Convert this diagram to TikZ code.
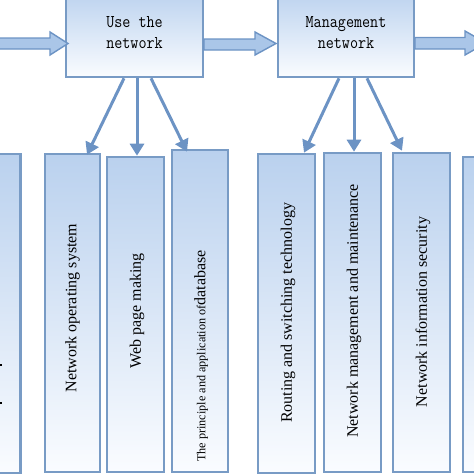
\documentclass[tikz,border=0pt]{standalone}
\usepackage{fontspec}
\setmainfont{Liberation Serif}
\usetikzlibrary{arrows.meta,calc}
\definecolor{bordc}{RGB}{120,155,197}
\definecolor{arrc}{RGB}{108,147,196}
\definecolor{topc}{RGB}{186,209,238}
\definecolor{topd}{RGB}{193,214,240}
\definecolor{botc}{RGB}{250,252,255}
\definecolor{blkfill}{RGB}{170,198,232}
\tikzset{
  topbox/.style={draw=bordc,line width=2.6pt,top color=topd,bottom color=botc,minimum width=136pt,minimum height=78pt,inner sep=0pt},
  subbox/.style={draw=bordc,line width=2.6pt,top color=topc,bottom color=botc,minimum width=55pt,inner sep=0pt},
  toptext/.style={font=\fontsize{18pt}{21pt}\ttfamily,align=center,inner sep=0pt},
  subtext/.style={font=\fontsize{16pt}{18pt}\selectfont,rotate=90,inner sep=0pt},
  thinarrow/.style={draw=arrc,line width=3pt,-{Triangle[length=12pt,width=14pt]}},
  blockarrow/.style={draw=arrc,line width=1.4pt,fill=blkfill,line join=miter}
}
\begin{document}
\begin{tikzpicture}[x=1pt,y=-1pt]
\useasboundingbox (0,0) rectangle (474,474);
\clip (0,0) rectangle (474,474);
% top boxes
\node[topbox,minimum width=137pt] (use) at (134.5,38) {};
\node[toptext] (usetxt) at (134.5,32.5) {\scalebox{0.87}[1]{Use the}\\\scalebox{0.87}[1]{network}};
\node[topbox] (mgmt) at (346,38) {};
\node[toptext] (mgmttxt) at (346,32.5) {\scalebox{0.87}[1]{Management}\\\scalebox{0.87}[1]{network}};
% block arrows
\draw[blockarrow] (-5,38) -- (50,38) -- (50,32) -- (68,43.5) -- (50,55) -- (50,49) -- (-5,49) -- cycle;
\draw[blockarrow] (204,39) -- (255,39) -- (255,32) -- (276,43.5) -- (255,55) -- (255,50) -- (204,50) -- cycle;
\draw[blockarrow] (415,37.5) -- (465,37.5) -- (465,31) -- (486,43) -- (465,55) -- (465,49) -- (415,49) -- cycle;
% sub boxes
\node[subbox,minimum height=319pt] (A) at (-7,313.5) {};
\node[subbox,minimum height=318pt] (B) at (72.5,313) {};
\node[subbox,minimum height=315pt,minimum width=57pt] (C) at (135.5,314.5) {};
\node[subbox,minimum height=322pt,minimum width=56pt] (D) at (200,311) {};
\node[subbox,minimum height=319pt,minimum width=57pt] (E) at (286.5,313.5) {};
\node[subbox,minimum height=319pt,minimum width=57pt] (F) at (352.5,312.5) {};
\node[subbox,minimum height=319pt,minimum width=57pt] (G) at (421.5,312.5) {};
\node[subbox,minimum height=315pt,minimum width=57pt] (H) at (491.5,314.5) {};
% texts
\node[subtext] (Bt) at (72.5,308) {Network operating system};
\node[subtext] (Ct) at (137,311) {Web page making};
\node[subtext] (Dt) at (201,356) {{\fontsize{12.2pt}{14pt}\selectfont The principle and application of}database};
\node[subtext] (Et) at (288,313) {Routing and switching technology};
\node[subtext] (Ft) at (354,311) {Network management and maintenance};
\node[subtext] (Gt) at (423,312) {Network information security};
% fragments of cut text in box A
\draw[line width=1.2pt] (-1,365) -- (2,365);
\draw[line width=1.2pt] (-1,403) -- (2,403);
% thin arrows
\draw[thinarrow] ($(use.south)+(-10.5,0)$) -- ($(B.north)+(14.5,2)$);
\draw[thinarrow] ($(use.south)+(2.5,0)$) -- ($(C.north)+(1.5,0)$);
\draw[thinarrow] ($(use.south)+(16.5,0)$) -- ($(D.north)+(-13,3)$);
\draw[thinarrow] ($(mgmt.south)+(-7,0)$) -- ($(E.north)+(17.5,0)$);
\draw[thinarrow] ($(mgmt.south)+(8,0)$) -- ($(F.north)+(1.5,0)$);
\draw[thinarrow] ($(mgmt.south)+(21,0)$) -- ($(G.north)+(-19.5,-1)$);
\end{tikzpicture}
\end{document}
